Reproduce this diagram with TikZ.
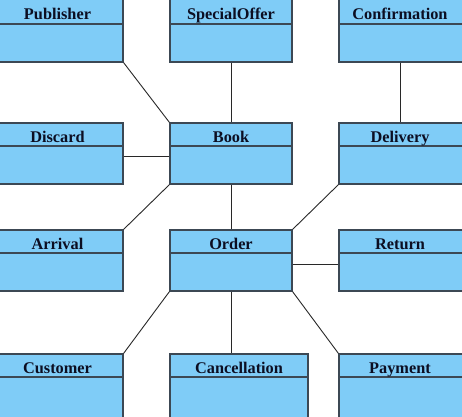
\documentclass[tikz,border=0pt]{standalone}
\usepackage{fontspec}
\setmainfont{Liberation Serif}
\definecolor{boxfill}{RGB}{127,204,247}
\definecolor{boxdraw}{RGB}{60,72,84}
\definecolor{txt}{RGB}{12,14,34}
\definecolor{linec}{RGB}{40,40,40}
\begin{document}
\begin{tikzpicture}[x=1pt,y=-1pt,
  umlbox/.style n args={3}{rectangle, draw=boxdraw, fill=boxfill, line width=1.1pt,
    minimum height=#1, inner sep=0pt, text=txt,
    font=\fontsize{16.3}{19}\selectfont\bfseries,
    text height=5pt, text depth=#3,
    path picture={\draw[boxdraw,line width=1.1pt]
      ([yshift=-#2]path picture bounding box.north west) --
      ([yshift=-#2]path picture bounding box.north east);}},
  rowone/.style={umlbox={64pt}{26pt}{27pt}},
  rowmid/.style={umlbox={61pt}{23pt}{28pt}},
  rowlast/.style={umlbox={70pt}{23pt}{37pt}},
  leftcol/.style={minimum width=131pt},
  midcol/.style={minimum width=122pt},
  rightcol/.style={minimum width=131pt, execute at begin node={\hspace*{-9pt}}},
  conn/.style={draw=linec, line width=0.9pt}]
\useasboundingbox (0,0) rectangle (462,416);
\clip (0,0) rectangle (462,416);
\fill[white] (0,0) rectangle (462,416);
% row 1
\node[rowone,leftcol]  (pub)  at (57.5,30) {Publisher};
\node[rowone,midcol]   (so)   at (231,30) {SpecialOffer};
\node[rowone,rightcol] (conf) at (404.5,30) {Confirmation};
% row 2
\node[rowmid,leftcol]  (disc) at (57.5,153.5) {Discard};
\node[rowmid,midcol]   (book) at (231,153.5) {Book};
\node[rowmid,rightcol] (del)  at (404.5,153.5) {Delivery};
% row 3
\node[rowmid,leftcol]  (arr)  at (57.5,260.5) {Arrival};
\node[rowmid,midcol]   (ord)  at (231,260.5) {Order};
\node[rowmid,rightcol] (ret)  at (404.5,260.5) {Return};
% row 4
\node[rowlast,leftcol]  (cust) at (57.5,389) {Customer};
\node[rowlast, minimum width=138pt] (canc) at (239,389) {Cancellation};
\node[rowlast,rightcol] (pay)  at (404.5,389) {Payment};
% connectors
\draw[conn] (pub.south east) -- (book.north west);
\draw[conn] (so.south) -- (book.north);
\draw[conn] ([xshift=-4.5pt]conf.south) -- ([xshift=-4.5pt]del.north);
\draw[conn] ([yshift=-3pt]disc.east) -- ([yshift=-3pt]book.west);
\draw[conn] (arr.north east) -- (book.south west);
\draw[conn] (book.south) -- (ord.north);
\draw[conn] (del.south west) -- (ord.north east);
\draw[conn] ([yshift=-4pt]ord.east) -- ([yshift=-4pt]ret.west);
\draw[conn] (ord.south west) -- (cust.north east);
\draw[conn] (ord.south) -- (ord.south |- canc.north);
\draw[conn] (ord.south east) -- (pay.north west);
\end{tikzpicture}
\end{document}
